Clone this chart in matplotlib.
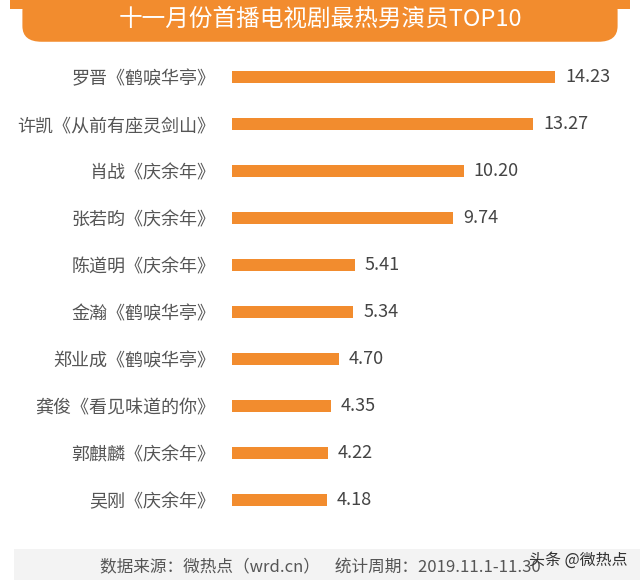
import matplotlib.pyplot as plt
from matplotlib.patches import FancyBboxPatch, Rectangle

plt.rcParams['font.family'] = ['Noto Sans CJK SC', 'DejaVu Sans']

# data
names = ["罗晋《鹤唳华亭》", "许凯《从前有座灵剑山》", "肖战《庆余年》", "张若昀《庆余年》",
         "陈道明《庆余年》", "金瀚《鹤唳华亭》", "郑业成《鹤唳华亭》", "龚俊《看见味道的你》",
         "郭麒麟《庆余年》", "吴刚《庆余年》"]
values = [14.23, 13.27, 10.20, 9.74, 5.41, 5.34, 4.70, 4.35, 4.22, 4.18]

title = "十一月份首播电视剧最热男演员TOP10"
footer = "数据来源：微热点（wrd.cn）    统计周期：2019.11.1-11.30"
watermark = "头条 @微热点"

bar_color = "#f28c2e"

fig = plt.figure(figsize=(6.4, 5.8), dpi=100)

# title banner
banner = FancyBboxPatch((0.035, 0.928), 0.93, 0.08, boxstyle="round,pad=0,rounding_size=0.03",
                        transform=fig.transFigure, facecolor=bar_color, edgecolor="none",
                        mutation_aspect=0.9)
fig.patches.append(banner)
fig.patches.append(Rectangle((0.015, 0.985), 0.97, 0.02, transform=fig.transFigure,
                             facecolor=bar_color, edgecolor="none"))
fig.text(0.5, 0.966, title, ha="center", va="center", color="white", fontsize=17)

# footer band
fig.patches.append(Rectangle((0.022, 0.0), 0.98, 0.054, transform=fig.transFigure,
                             facecolor="#f3f3f3", edgecolor="none"))
fig.text(0.5, 0.021, footer, ha="center", va="center", color="#555555", fontsize=12)
fig.text(0.98, 0.034, watermark, ha="right", va="center", color="#333333", fontsize=11.5)

# bars
ax = fig.add_axes([0.3625, 0.0974, 0.625, 0.8103])
ypos = list(range(len(names)))
ax.barh(ypos, values, height=0.26, color=bar_color)
for y, v in zip(ypos, values):
    ax.text(v + 0.45, y, f"{v:.2f}", va="center", ha="left", fontsize=13, color="#444444")

ax.set_yticks(ypos)
ax.set_yticklabels(names, fontsize=13, color="#555555")
ax.tick_params(axis="y", length=0, pad=12)
ax.set_ylim(9.5, -0.5)
ax.set_xlim(0, 17.62)
ax.set_xticks([])
for s in ax.spines.values():
    s.set_visible(False)

fig.savefig("out.png", dpi=100, facecolor="white")
